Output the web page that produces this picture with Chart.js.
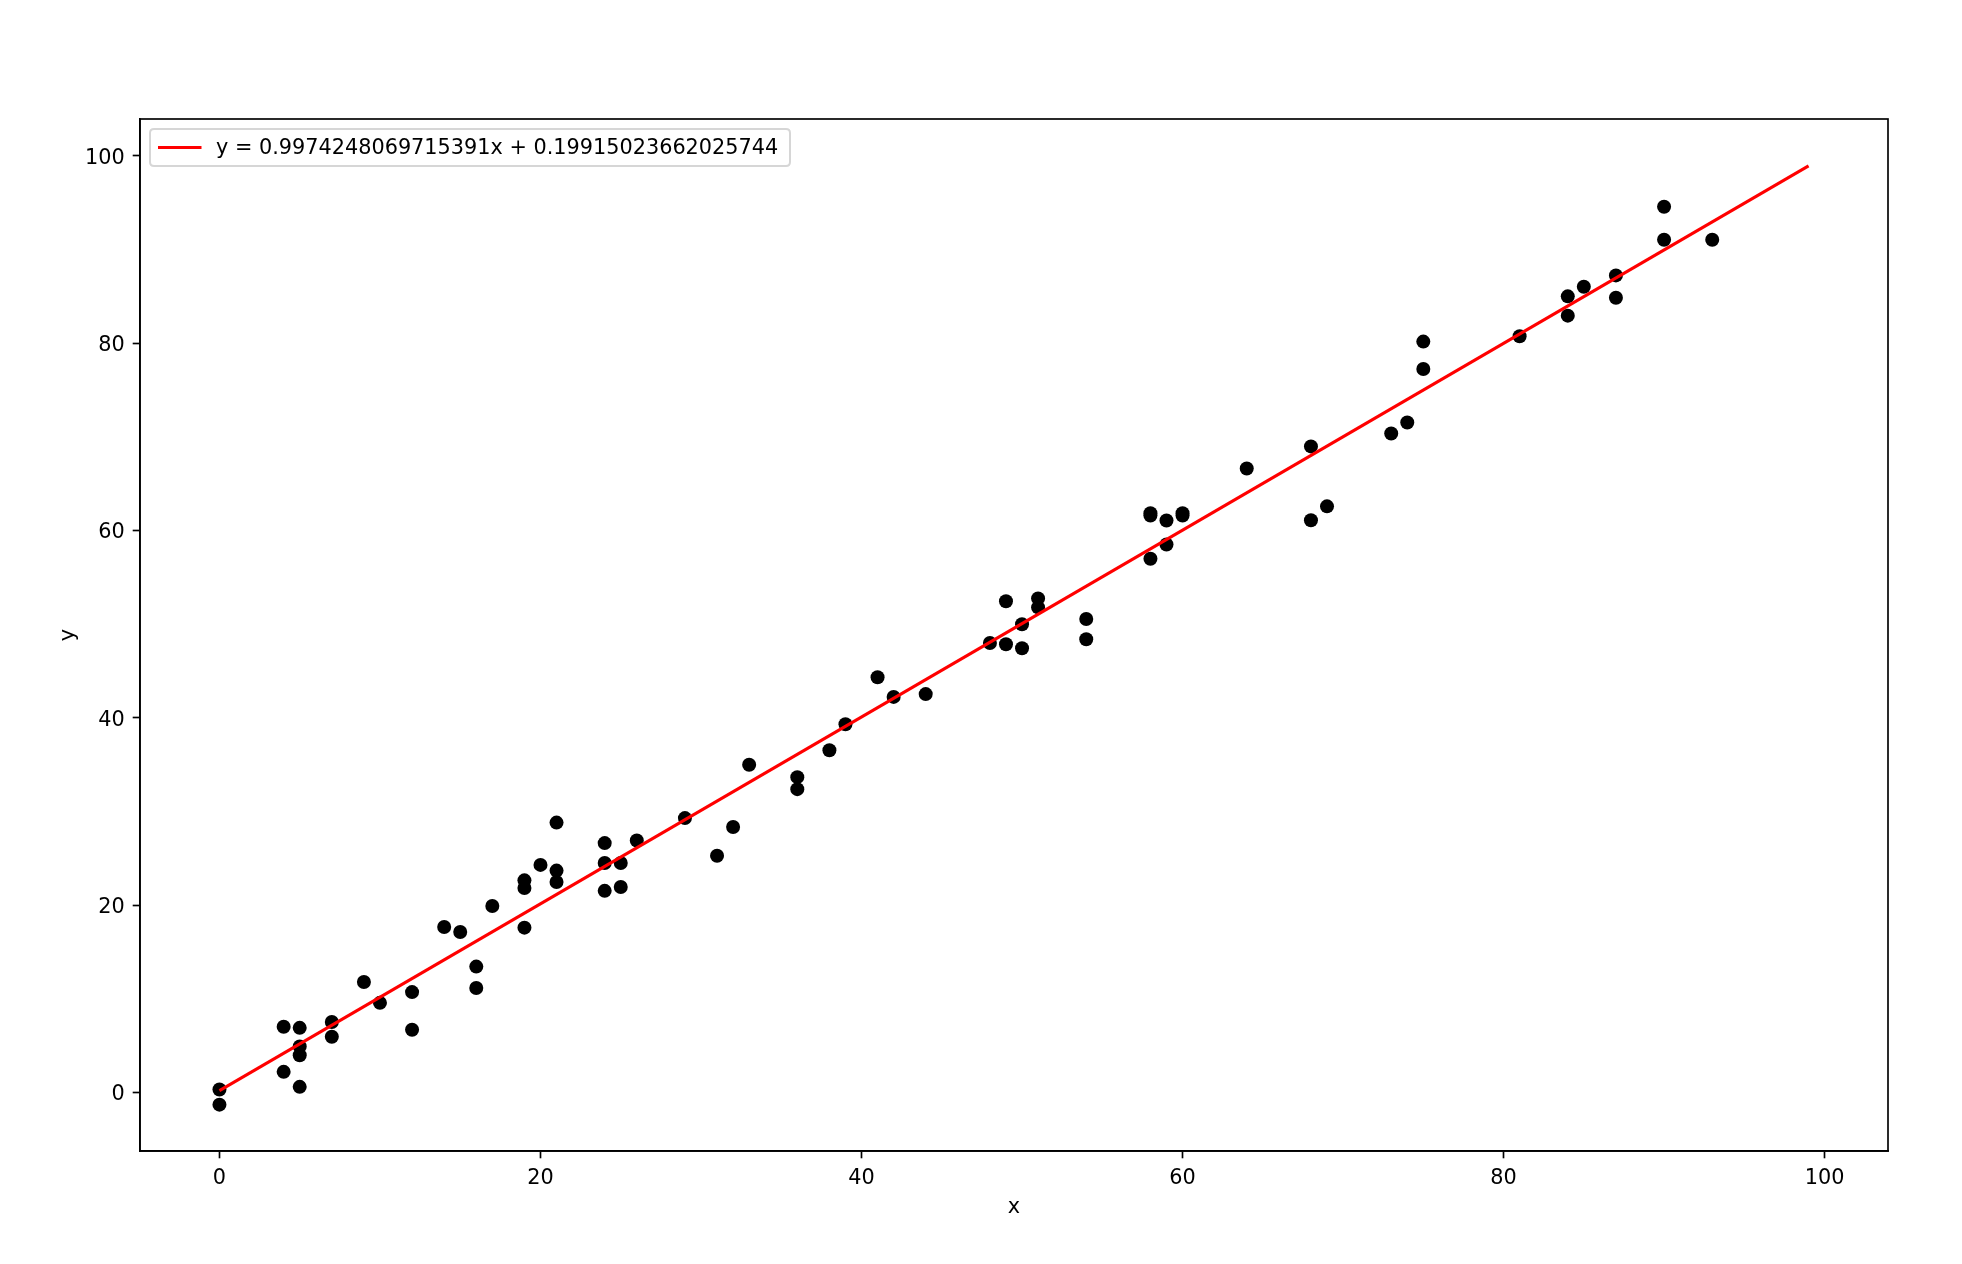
<!DOCTYPE html>
<html>
<head>
<meta charset="utf-8">
<script src="https://cdn.jsdelivr.net/npm/chart.js@4"></script>
<style>
  html, body { margin: 0; padding: 0; background: #ffffff; }
  #wrap { width: 1962px; height: 1264px; }
</style>
</head>
<body>
<div id="wrap"><canvas id="c" width="1962" height="1264"></canvas></div>
<script>
// ---- data ----
const pointX = [0, 0, 4, 4, 5, 5, 5, 5, 7, 7, 9, 10, 12, 12, 14, 15, 16, 16, 17,
  19, 19, 19, 20, 21, 21, 21, 24, 24, 24, 25, 25, 26, 29, 31, 32, 33, 36, 36, 38, 39,
  41, 42, 44, 48, 49, 49, 50, 50, 51, 51, 54, 54, 58, 58, 58, 59, 59, 60, 60, 64,
  68, 68, 69, 73, 74, 75, 75, 81, 84, 84, 85, 87, 87, 90, 90, 93];
const pointY = [0.32, -1.3, 7.02, 2.2, 6.9, 4.92, 3.97, 0.6, 7.52, 5.95, 11.8, 9.57, 10.72, 6.7, 17.67, 17.14, 13.44, 11.16, 19.91,
  22.65, 21.83, 17.6, 24.3, 28.82, 23.69, 22.47, 26.63, 24.5, 21.53, 24.5, 21.94, 26.9, 29.3, 25.28, 28.34, 34.99, 33.67, 32.39, 36.55, 39.32,
  44.34, 42.24, 42.54, 48.0, 52.45, 47.86, 49.99, 47.43, 52.76, 51.8, 50.56, 48.39, 61.85, 61.6, 56.99, 61.08, 58.52, 61.85, 61.6, 66.63,
  68.99, 61.1, 62.59, 70.36, 71.54, 80.18, 77.26, 80.75, 85.01, 82.95, 86.04, 87.25, 84.87, 94.58, 91.06, 91.06];
const fitSlope = 0.9974248069715391;
const fitIntercept = 0.19915023662025744;
const lineX = [0, 99];
const lineY = [0.1992, 98.943];
const xTicks = [0, 20, 40, 60, 80, 100];
const yTicks = [0, 20, 40, 60, 80, 100];
const xTitle = 'x';
const yTitle = 'y';
const fitLabel = 'y = ' + fitSlope + 'x + ' + fitIntercept;

// ---- chart ----
const FONT = 'DejaVu Sans';
const FS = 20.8;

const scatterPts = pointX.map((x, i) => ({ x: x, y: pointY[i] }));
const linePts = lineX.map((x, i) => ({ x: x, y: lineY[i] }));

const framePlugin = {
  id: 'frameAndLegend',
  afterDraw(chart) {
    const { ctx, chartArea: a } = chart;
    ctx.save();
    // spines
    ctx.strokeStyle = '#000000';
    ctx.lineWidth = 1.67;
    ctx.strokeRect(a.left, a.top, a.right - a.left, a.bottom - a.top);
    // legend
    const ds = chart.data.datasets[0];
    const bx = 150, by = 129, bw = 640, bh = 37, r = 4;
    ctx.beginPath();
    ctx.moveTo(bx + r, by);
    ctx.lineTo(bx + bw - r, by);
    ctx.quadraticCurveTo(bx + bw, by, bx + bw, by + r);
    ctx.lineTo(bx + bw, by + bh - r);
    ctx.quadraticCurveTo(bx + bw, by + bh, bx + bw - r, by + bh);
    ctx.lineTo(bx + r, by + bh);
    ctx.quadraticCurveTo(bx, by + bh, bx, by + bh - r);
    ctx.lineTo(bx, by + r);
    ctx.quadraticCurveTo(bx, by, bx + r, by);
    ctx.closePath();
    ctx.fillStyle = 'rgba(255,255,255,0.8)';
    ctx.fill();
    ctx.strokeStyle = 'rgba(204,204,204,0.8)';
    ctx.lineWidth = 2;
    ctx.stroke();
    const cy = by + bh / 2;
    ctx.beginPath();
    ctx.moveTo(158, cy);
    ctx.lineTo(201.5, cy);
    ctx.strokeStyle = ds.borderColor;
    ctx.lineWidth = 3.1;
    ctx.stroke();
    ctx.fillStyle = '#000000';
    ctx.font = FS + 'px "' + FONT + '"';
    ctx.textBaseline = 'middle';
    ctx.textAlign = 'left';
    ctx.fillText(ds.label, 216, cy + 1);
    ctx.restore();
  }
};

new Chart(document.getElementById('c'), {
  type: 'scatter',
  data: {
    datasets: [
      {
        type: 'line',
        label: fitLabel,
        data: linePts,
        showLine: true,
        borderColor: '#ff0000',
        borderWidth: 3.1,
        pointRadius: 0,
        fill: false,
        tension: 0
      },
      {
        label: 'data',
        data: scatterPts,
        backgroundColor: '#000000',
        borderColor: '#000000',
        borderWidth: 0,
        pointRadius: 7,
        pointHoverRadius: 7
      }
    ]
  },
  options: {
    responsive: false,
    animation: false,
    devicePixelRatio: 1,
    layout: { padding: { left: 0, right: 74, top: 119, bottom: 0 } },
    plugins: {
      legend: { display: false },
      tooltip: { enabled: false }
    },
    scales: {
      x: {
        type: 'linear',
        position: 'bottom',
        min: -4.95,
        max: 103.95,
        afterBuildTicks: (s) => { s.ticks = xTicks.map(v => ({ value: v })); },
        afterFit: (s) => { s.height = 113; },
        grid: {
          display: true,
          drawOnChartArea: false,
          drawTicks: true,
          tickLength: 7.3,
          tickWidth: 1.67,
          tickColor: '#000000'
        },
        border: { display: true, color: '#000000', width: 1.67 },
        ticks: {
          color: '#000000',
          padding: 8,
          maxRotation: 0,
          autoSkip: false,
          font: { family: FONT, size: FS }
        },
        title: {
          display: true,
          text: xTitle,
          color: '#000000',
          font: { family: FONT, size: FS },
          padding: { top: 0, bottom: 44 }
        }
      },
      y: {
        type: 'linear',
        position: 'left',
        min: -6.25,
        max: 103.95,
        afterBuildTicks: (s) => { s.ticks = yTicks.map(v => ({ value: v })); },
        afterFit: (s) => { s.width = 140; },
        grid: {
          display: true,
          drawOnChartArea: false,
          drawTicks: true,
          tickLength: 7.3,
          tickWidth: 1.67,
          tickColor: '#000000'
        },
        border: { display: true, color: '#000000', width: 1.67 },
        ticks: {
          color: '#000000',
          padding: 8,
          labelOffset: 2.5,
          autoSkip: false,
          font: { family: FONT, size: FS }
        },
        title: {
          display: true,
          text: yTitle,
          color: '#000000',
          font: { family: FONT, size: FS },
          padding: { top: 56, bottom: 0 }
        }
      }
    }
  },
  plugins: [framePlugin]
});
</script>
</body>
</html>
